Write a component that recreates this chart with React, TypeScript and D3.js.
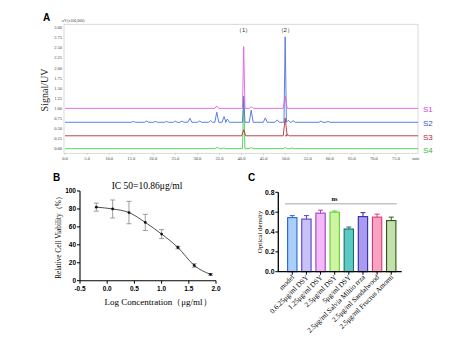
import * as d3 from "d3";

// ---------- Panel A: chromatograms ----------
const traceNames = ["S1", "S2", "S3", "S4"];
const traceColors = ["#e060e0", "#4a72e0", "#b83040", "#48d048"];
const labelColors = ["#d040d0", "#3058e0", "#b02838", "#38c038"];
const traceOffsets = [1.0, 0.655, 0.32, 0.0];
// [retention time (min), peak height above baseline]
const peaksS1 = [[34.4, 0.06], [40.5, 1.53], [42.2, 0.04], [49.9, 0.3]];
const peaksS2 = [
  [15.5, 0.02], [18.5, 0.03], [20.5, 0.02], [23.0, 0.02], [25.0, 0.03], [26.5, 0.03],
  [28.3, 0.1], [30.5, 0.03], [33.0, 0.04], [34.4, 0.25], [36.05, 0.14], [36.8, 0.08],
  [40.5, 0.65], [42.2, 0.3], [45.4, 0.11], [48.1, 0.06], [49.9, 2.12], [50.6, 0.05],
  [51.7, 0.04], [58.0, 0.03], [59.6, 0.02],
];
const peaksS3 = [[40.5, 0.15], [49.9, 0.44], [50.4, 0.03]];
const peaksS4 = [[34.5, 0.04], [36.0, 0.02], [40.5, 1.2], [42.2, 0.03], [49.9, 0.03], [51.5, 0.02]];
const tracePeaks = [peaksS1, peaksS2, peaksS3, peaksS4];
const timeTicks = [0, 5, 10, 15, 20, 25, 30, 35, 40, 45, 50, 55, 60, 65, 70, 75];
const signalTicks = [0, 0.25, 0.5, 0.75, 1, 1.25, 1.5, 1.75, 2, 2.25, 2.5, 2.75, 3];

// ---------- Panel B: dose response ----------
const logConc = [-0.2, 0.1, 0.4, 0.7, 1.0, 1.3, 1.6, 1.9];
const viability = [82, 80, 76, 65, 52, 37, 17, 7];
const viabilitySd = [4.5, 10, 12.5, 9, 5, 1.5, 2, 1];
const logTicks = [-0.5, 0, 0.5, 1.0, 1.5, 2.0];
const viabilityTicks = [0, 20, 40, 60, 80, 100];

// ---------- Panel C: optical density ----------
const groups = [
  "model",
  "0.6.25μg/ml DSY",
  "1.25μg/ml DSY",
  "2.5μg/ml DSY",
  "5μg/ml DSY",
  "2.5μg/ml Salvia Miltio rrza",
  "2.5μg/ml Sandalwood",
  "2.5μg/ml Fructus Amomi",
];
const density = [0.545, 0.53, 0.59, 0.6, 0.43, 0.555, 0.55, 0.515];
const densitySd = [0.02, 0.035, 0.03, 0.012, 0.02, 0.04, 0.03, 0.035];
const barFills = ["#a9d0f8", "#c9c2f6", "#f2baf6", "#cff5a2", "#5ccac2", "#a99cf0", "#f7a3c4", "#c3e2a9"];
const barStrokes = ["#2a66d4", "#5442c8", "#a83ac4", "#5ed030", "#1d6d6a", "#3526a4", "#e0346e", "#31521f"];
const densityTicks = [0, 0.2, 0.4, 0.6, 0.8];

const serif = "'Liberation Serif', 'DejaVu Serif', serif";
const sans = "'Liberation Sans', Arial, sans-serif";

function tracePoints(peaks: number[][]) {
  const pts: [number, number][] = [[0, 0]];
  peaks.forEach(([t, h]) => {
    const w = h > 0.5 ? 0.28 : 0.45;
    pts.push([t - w, 0], [t, h], [t + w, 0]);
  });
  pts.push([80, 0]);
  return pts;
}

export default function App() {
  // A scales
  const xA = d3.scaleLinear().domain([0, 80]).range([65, 418]);
  const yA = d3.scaleLinear().domain([0, 3]).range([148.7, 27.7]);

  // B scales
  const xB = d3.scaleLinear().domain([-0.5, 2.0]).range([80, 216]);
  const yB = d3.scaleLinear().domain([0, 100]).range([280.7, 191]);
  const lineB = d3
    .line<number>()
    .x((_, i) => xB(logConc[i]))
    .y((d) => yB(d))
    .curve(d3.curveMonotoneX);

  // C scales
  const xC = d3.scaleBand<string>().domain(groups).range([285.2, 398.3]).paddingInner(0.34).paddingOuter(0.17);
  const yC = d3.scaleLinear().domain([0, 0.8]).range([271.7, 192.3]);

  return (
    <svg
      width={474}
      height={351}
      style={{ position: "fixed", left: 0, top: 0, background: "#fff" }}
    >
      <rect width={474} height={351} fill="#fff" />

      {/* ===== Panel A ===== */}
      <text x={43} y={21} fontFamily={sans} fontWeight="bold" fontSize={10}>A</text>
      <text x={62} y={22} fontFamily={serif} fontSize={4} fill="#444">uV(x100,000)</text>
      <rect x={64} y={24.3} width={354} height={129} fill="none" stroke="#d0d0d0" strokeWidth={0.8} />
      <text
        transform="translate(48,90) rotate(-90)"
        textAnchor="middle"
        fontFamily={serif}
        fontSize={10}
        fill="#222"
      >
        Signal/UV
      </text>
      {signalTicks.map((t) => (
        <text key={t} x={62} y={yA(t) + 1.5} textAnchor="end" fontFamily={serif} fontSize={4.5} fill="#444">
          {t.toFixed(2)}
        </text>
      ))}
      {timeTicks.map((t) => (
        <g key={t}>
          <line x1={xA(t)} x2={xA(t)} y1={153.3} y2={155} stroke="#999" strokeWidth={0.4} />
          <text x={xA(t)} y={159.5} textAnchor="middle" fontFamily={serif} fontSize={4.5} fill="#444">
            {t.toFixed(1)}
          </text>
        </g>
      ))}
      <text x={xA(79.5)} y={159.5} textAnchor="middle" fontFamily={serif} fontSize={4.5} fill="#444">min</text>
      {[3, 2, 1, 0].map((k) => {
        const line = d3
          .line<[number, number]>()
          .x((d) => xA(d[0]))
          .y((d) => yA(d[1] + traceOffsets[k]));
        return (
          <path
            key={traceNames[k]}
            d={line(tracePoints(tracePeaks[k])) ?? ""}
            fill="none"
            stroke={traceColors[k]}
            strokeWidth={0.9}
          />
        );
      })}
      {traceNames.map((n, k) => (
        <text
          key={n}
          x={423}
          y={yA(traceOffsets[k]) + 4}
          fontFamily={sans}
          fontSize={8}
          fill={labelColors[k]}
        >
          {n}
        </text>
      ))}
      <text x={xA(40.5)} y={32} textAnchor="middle" fontFamily={sans} fontSize={6} fill="#333">（1）</text>
      <text x={xA(49.9)} y={32} textAnchor="middle" fontFamily={sans} fontSize={6} fill="#333">（2）</text>

      {/* ===== Panel B ===== */}
      <text x={53} y={181} fontFamily={sans} fontWeight="bold" fontSize={10}>B</text>
      <text x={147} y={189} textAnchor="middle" fontFamily={serif} fontSize={9.5}>IC 50=10.86μg/ml</text>
      <line x1={80} x2={80} y1={yB(100)} y2={yB(0)} stroke="#000" strokeWidth={1.1} />
      <line x1={80} x2={216} y1={yB(0)} y2={yB(0)} stroke="#000" strokeWidth={1.1} />
      {viabilityTicks.map((t) => (
        <g key={t}>
          <line x1={77} x2={80} y1={yB(t)} y2={yB(t)} stroke="#000" strokeWidth={1} />
          <text x={76} y={yB(t) + 2.4} textAnchor="end" fontFamily={sans} fontWeight="bold" fontSize={6.5}>
            {t}
          </text>
        </g>
      ))}
      {logTicks.map((t) => (
        <g key={t}>
          <line x1={xB(t)} x2={xB(t)} y1={yB(0)} y2={yB(0) + 3} stroke="#000" strokeWidth={1} />
          <text x={xB(t)} y={yB(0) + 10.5} textAnchor="middle" fontFamily={sans} fontWeight="bold" fontSize={6.5}>
            {t.toFixed(1)}
          </text>
        </g>
      ))}
      <text x={158} y={305} textAnchor="middle" fontFamily={serif} fontSize={9}>
        Log Concentration（μg/ml）
      </text>
      <text
        transform="translate(61,236) rotate(-90)"
        textAnchor="middle"
        fontFamily={serif}
        fontSize={7.3}
      >
        Relative Cell Viability（%）
      </text>
      {viability.map((v, i) => {
        const x = xB(logConc[i]);
        const sd = viabilitySd[i];
        return (
          <g key={i} stroke="#777" strokeWidth={0.7}>
            <line x1={x} x2={x} y1={yB(v + sd)} y2={yB(v - sd)} />
            <line x1={x - 2.5} x2={x + 2.5} y1={yB(v + sd)} y2={yB(v + sd)} />
            <line x1={x - 2.5} x2={x + 2.5} y1={yB(v - sd)} y2={yB(v - sd)} />
          </g>
        );
      })}
      <path d={lineB(viability) ?? ""} fill="none" stroke="#222" strokeWidth={0.8} />
      {viability.map((v, i) => (
        <circle key={i} cx={xB(logConc[i])} cy={yB(v)} r={1.4} fill="#111" />
      ))}

      {/* ===== Panel C ===== */}
      <text x={248} y={181} fontFamily={sans} fontWeight="bold" fontSize={10}>C</text>
      <text
        transform="translate(262,232) rotate(-90)"
        textAnchor="middle"
        fontFamily={serif}
        fontSize={7}
      >
        Optical density
      </text>
      {density.map((v, i) => {
        const g = groups[i];
        const x = xC(g) ?? 0;
        const w = xC.bandwidth();
        const cx = x + w / 2;
        const top = yC(v + densitySd[i]);
        return (
          <g key={g}>
            <line x1={cx} x2={cx} y1={yC(v)} y2={top} stroke={barStrokes[i]} strokeWidth={1} />
            <line x1={cx - 2.5} x2={cx + 2.5} y1={top} y2={top} stroke={barStrokes[i]} strokeWidth={1} />
            <rect
              x={x}
              y={yC(v)}
              width={w}
              height={yC(0) - yC(v)}
              fill={barFills[i]}
              stroke={barStrokes[i]}
              strokeWidth={1.1}
            />
          </g>
        );
      })}
      <line x1={278.3} x2={278.3} y1={yC(0.8)} y2={yC(0)} stroke="#000" strokeWidth={1.3} />
      <line x1={278.3} x2={401.7} y1={yC(0)} y2={yC(0)} stroke="#000" strokeWidth={1.3} />
      {densityTicks.map((t) => (
        <g key={t}>
          <line x1={275.3} x2={278.3} y1={yC(t)} y2={yC(t)} stroke="#000" strokeWidth={1} />
          <text x={274.5} y={yC(t) + 2.4} textAnchor="end" fontFamily={sans} fontWeight="bold" fontSize={6.8}>
            {t.toFixed(1)}
          </text>
        </g>
      ))}
      {groups.map((g) => {
        const cx = (xC(g) ?? 0) + xC.bandwidth() / 2;
        return (
          <g key={g}>
            <line x1={cx} x2={cx} y1={yC(0)} y2={yC(0) + 3} stroke="#000" strokeWidth={1} />
            <text
              transform={`translate(${cx + 2.5},${yC(0) + 6}) rotate(-45)`}
              textAnchor="end"
              fontFamily={serif}
              fontSize={7.2}
            >
              {g}
            </text>
          </g>
        );
      })}
      <line x1={285} x2={396.7} y1={yC(0.684)} y2={yC(0.684)} stroke="#c4c4c4" strokeWidth={1.5} />
      <text x={334.5} y={yC(0.684) - 3} textAnchor="middle" fontFamily={serif} fontWeight="bold" fontSize={6.5}>
        ns
      </text>
    </svg>
  );
}
